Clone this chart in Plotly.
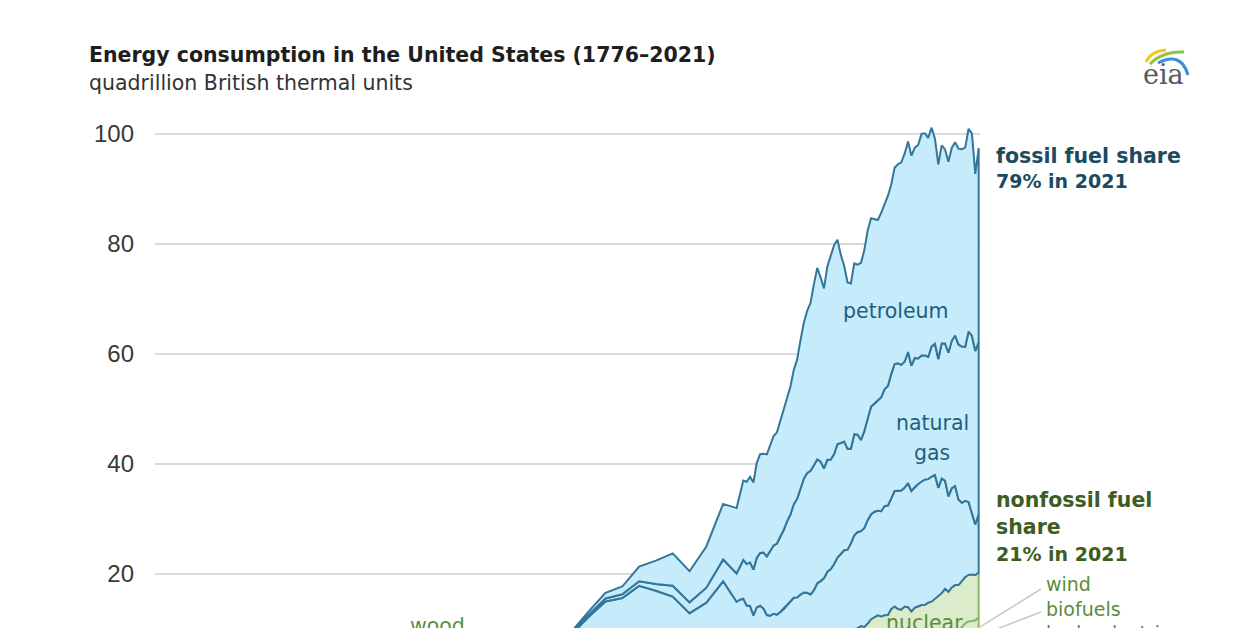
import numpy as np
import plotly.graph_objects as go

# ---------------- data (quadrillion Btu) ----------------
years = [1776, 1800, 1825, 1850, 1860, 1870, 1880, 1885, 1890, 1895,
         1900, 1905, 1910, 1915, 1920, 1925, 1930, 1935, 1940, 1945] + list(range(1949, 2022))

coal = [0.0, 0.0, 0.01, 0.22, 0.52, 1.05, 2.05, 2.84, 4.06, 4.6,
        6.84, 10.0, 12.71, 13.29, 15.5, 14.71, 13.64, 10.63, 12.54, 15.97,
        11.98,
        12.35, 12.55, 11.31, 11.37, 9.71, 11.17, 11.35, 10.82, 9.53, 9.52,
        9.84, 9.62, 9.91, 10.41, 10.96, 11.58, 12.14, 11.91, 12.33, 12.38,
        12.27, 11.60, 12.08, 12.97, 12.66, 12.66, 13.58, 13.92, 13.77, 15.04,
        15.42, 15.91, 15.32, 15.89, 17.07, 17.48, 17.26, 18.01, 18.85, 19.07,
        19.17, 18.99, 19.12, 19.84, 19.91, 20.09, 21.00, 21.45, 21.66, 21.62,
        22.58, 21.91, 21.90, 22.32, 22.47, 22.80, 22.45, 22.75, 22.39, 19.69,
        20.83, 19.66, 17.38, 18.04, 17.99, 15.55, 14.23, 13.84, 13.24, 11.32,
        9.18, 10.55]

natural_gas = [0, 0, 0, 0, 0, 0, 0, 0.14, 0.26, 0.15,
               0.25, 0.37, 0.54, 0.67, 0.83, 1.21, 1.97, 1.97, 2.73, 3.97,
               5.15,
               5.97, 7.05, 7.55, 7.91, 8.33, 9.00, 9.61, 10.19, 10.66, 11.72,
               12.39, 12.93, 13.73, 14.40, 15.29, 15.77, 16.99, 17.94, 19.21, 20.68,
               21.79, 22.47, 22.70, 22.51, 21.73, 19.95, 20.35, 19.93, 20.00, 20.67,
               20.24, 19.75, 18.36, 17.20, 18.38, 17.70, 16.59, 17.64, 18.45, 19.60,
               19.60, 20.03, 20.71, 21.23, 21.73, 22.67, 23.09, 23.22, 22.83, 22.91,
               23.82, 22.77, 23.51, 22.83, 22.91, 22.56, 22.22, 23.66, 23.84, 23.42,
               24.57, 24.95, 26.09, 26.81, 27.38, 28.19, 28.40, 28.03, 31.00, 32.10,
               31.54, 31.30]

petroleum = [0, 0, 0, 0, 0.003, 0.01, 0.1, 0.04, 0.16, 0.17,
             0.23, 0.61, 1.01, 1.42, 2.68, 4.28, 5.9, 5.67, 7.49, 10.11,
             11.88,
             13.32, 14.43, 14.96, 15.56, 15.84, 17.25, 17.94, 17.93, 18.53, 19.32,
             19.92, 20.22, 21.05, 21.70, 22.30, 23.25, 24.40, 25.28, 26.98, 28.34,
             29.52, 30.56, 32.95, 34.84, 33.45, 32.73, 35.17, 37.12, 37.97, 37.12,
             34.20, 31.93, 30.23, 30.05, 31.05, 30.92, 32.20, 32.87, 34.22, 34.21,
             33.55, 32.85, 33.53, 33.74, 34.56, 34.44, 35.68, 36.16, 36.82, 37.84,
             38.26, 38.18, 38.22, 38.81, 40.29, 40.39, 39.82, 39.77, 37.28, 35.40,
             36.01, 35.28, 34.72, 35.06, 35.13, 35.61, 35.88, 36.19, 36.87, 36.74,
             32.19, 35.30]

nuclear = [0] * 20 + [
    0,
    0, 0, 0, 0, 0, 0, 0, 0.002, 0.002, 0.002,
    0.006, 0.020, 0.026, 0.038, 0.040, 0.043, 0.064, 0.088, 0.142, 0.154,
    0.239, 0.413, 0.584, 0.910, 1.272, 1.900, 2.111, 2.702, 3.024, 2.776,
    2.739, 3.008, 3.131, 3.203, 3.553, 4.076, 4.380, 4.754, 5.587, 5.602,
    6.104, 6.422, 6.479, 6.410, 6.694, 7.075, 7.087, 6.597, 7.068, 7.610,
    7.862, 8.029, 8.145, 7.959, 8.222, 8.161, 8.215, 8.459, 8.426, 8.355,
    8.434, 8.269, 8.062, 8.244, 8.338, 8.337, 8.427, 8.419, 8.438, 8.452,
    8.251, 8.130]

# wood, hydroelectric, biofuels, wind, solar, geothermal combined
renewables = [0.25, 0.58, 0.88, 2.14, 2.64, 2.89, 2.87, 2.68, 2.54, 2.40,
              2.27, 2.23, 2.30, 2.34, 2.35, 2.24, 2.24, 2.24, 2.24, 2.70,
              2.974,
              2.978, 2.958, 2.940, 2.831, 2.754, 2.784, 2.871, 2.900, 3.011, 2.900,
              2.929, 2.966, 3.146, 3.138, 3.291, 3.394, 3.476, 3.750, 3.810, 4.113,
              4.070, 4.268, 4.398, 4.434, 4.771, 4.689, 4.719, 4.262, 5.030, 5.157,
              5.428, 5.415, 5.979, 6.497, 6.424, 6.082, 6.145, 5.618, 5.400, 6.185,
              6.040, 6.068, 5.817, 6.096, 5.845, 6.560, 7.000, 7.043, 6.458, 6.485,
              6.102, 5.163, 5.729, 6.080, 6.125, 6.221, 6.580, 6.510, 7.187, 7.617,
              8.079, 9.041, 8.692, 9.307, 9.646, 9.656, 10.294, 11.034, 11.405, 11.455,
              11.579, 12.160]

y_ticks = [20, 40, 60, 80, 100]

# ---------------- styling ----------------
FONT = "DejaVu Sans"
BLUE_FILL = "#c6ebfb"
BLUE_LINE = "#33769a"
GREEN_FILL = "#dcebc9"
GREEN_LINE = "#8cb86a"
BLUE_TEXT = "#1f5f7f"
BLUE_DARK = "#1b4b60"
GREEN_DARK = "#3d5e23"
GREEN_TEXT = "#5b8c3c"

PL, PR, PT, PB = 155, 980, 123, 628


def fx(px):
    return (px - PL) / (PR - PL)


def fy(py):
    return (PB - py) / (PB - PT)


x = np.array(years, dtype=float)
c0 = np.zeros(len(years))
c1 = c0 + np.array(renewables)
c2 = c1 + np.array(nuclear)
c3 = c2 + np.array(coal)
c4 = c3 + np.array(natural_gas)
c5 = c4 + np.array(petroleum)

layers = [
    (c0, c1, GREEN_FILL, GREEN_LINE),
    (c1, c2, GREEN_FILL, GREEN_LINE),
    (c2, c3, BLUE_FILL, BLUE_LINE),
    (c3, c4, BLUE_FILL, BLUE_LINE),
    (c4, c5, BLUE_FILL, BLUE_LINE),
]

fig = go.Figure()
for bottom, top, fill, line in layers:
    fig.add_trace(go.Scatter(
        x=np.concatenate([x, x[::-1]]),
        y=np.concatenate([top, bottom[::-1]]),
        fill="toself", fillcolor=fill,
        mode="lines", line=dict(color=line, width=2),
        hoverinfo="skip", showlegend=False,
    ))

ann = []


def text(s, px, py, size, color, bold=False, xanchor="left", family=FONT, align="left"):
    ann.append(dict(
        text=f"<b>{s}</b>" if bold else s,
        x=fx(px), y=fy(py), xref="paper", yref="paper",
        xanchor=xanchor, yanchor="middle", showarrow=False, align=align,
        font=dict(family=family, size=size, color=color),
    ))


text("Energy consumption in the United States (1776\u20132021)", 87, 55, 20.5, "#1e1e1e", bold=True)
text("quadrillion British thermal units", 87, 83, 20.5, "#333333")

text("petroleum", 895, 311, 20.5, BLUE_TEXT, xanchor="center")
text("natural", 932, 423, 20.5, BLUE_TEXT, xanchor="center")
text("gas", 932, 453, 20.5, BLUE_TEXT, xanchor="center")
text("coal", 676, 637, 20.5, BLUE_TEXT, xanchor="center")
text("nuclear", 924, 623, 20.5, GREEN_TEXT, xanchor="center")
text("wood", 437, 626, 20.5, GREEN_TEXT, xanchor="center")

text("fossil fuel share", 994, 156, 20.5, BLUE_DARK, bold=True)
text("79% in 2021", 994, 181, 19, BLUE_DARK, bold=True)
text("nonfossil fuel", 994, 500, 20.5, GREEN_DARK, bold=True)
text("share", 994, 527, 20.5, GREEN_DARK, bold=True)
text("21% in 2021", 994, 554, 19, GREEN_DARK, bold=True)

text("wind", 1044, 584, 19, GREEN_TEXT)
text("biofuels", 1044, 608.5, 19, GREEN_TEXT)
text("hydroelectric", 1044, 633, 19, GREEN_TEXT)

# EIA logo text
text("eia", 1163, 75, 27, "#4f5a64", xanchor="center", family="DejaVu Serif")

shapes = []


def seg(x0, y0, x1, y1, color="#c8c8c8", width=1.5):
    shapes.append(dict(type="line", xref="paper", yref="paper",
                       x0=fx(x0), y0=fy(y0), x1=fx(x1), y1=fy(y1),
                       line=dict(color=color, width=width)))


seg(1041, 589, 959, 640)
seg(1041, 612, 968, 640)


def arc(p0, c, p1, color, width=3):
    path = (f"M {fx(p0[0])},{fy(p0[1])} Q {fx(c[0])},{fy(c[1])} "
            f"{fx(p1[0])},{fy(p1[1])}")
    shapes.append(dict(type="path", xref="paper", yref="paper", path=path,
                       line=dict(color=color, width=width)))


arc((1146, 62), (1151, 51), (1166, 50), "#f2c81e")
arc((1150, 64), (1162, 51), (1184, 52), "#8dc63f")
arc((1158, 63), (1181, 51), (1188, 75), "#3d8fd0")

fig.update_layout(
    width=1260, height=628,
    margin=dict(l=PL, r=1260 - PR, t=PT, b=0, autoexpand=False),
    paper_bgcolor="white", plot_bgcolor="white",
    showlegend=False,
    annotations=ann, shapes=shapes,
    xaxis=dict(range=[1776, 2021.4], visible=False),
    yaxis=dict(range=[10.18, 102], tickvals=y_ticks,
               ticktext=[str(v) for v in y_ticks],
               showgrid=True, gridcolor="#dadada", gridwidth=1.5,
               zeroline=False, showline=False, ticks="",
               ticklabelstandoff=20,
               tickfont=dict(family="Liberation Sans", size=24, color="#3a3a3a")),
)

fig.write_html("out.html", config={"displayModeBar": False})
